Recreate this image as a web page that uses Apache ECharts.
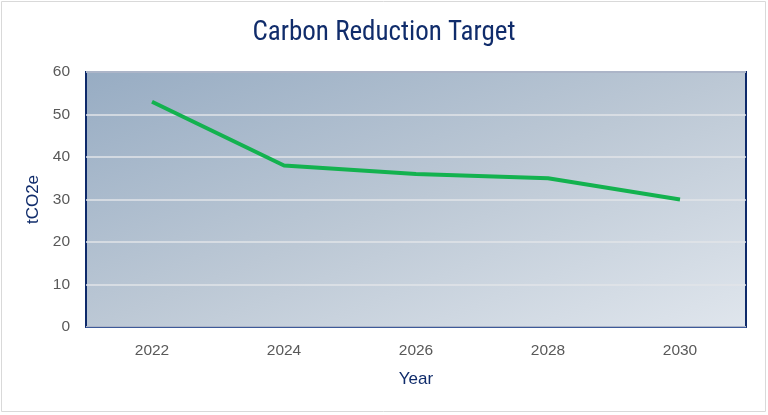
<!DOCTYPE html>
<html><head><meta charset="utf-8">
<script src="https://cdn.jsdelivr.net/npm/echarts@6/dist/echarts.min.js"></script>
<style>html,body{margin:0;padding:0;background:#fff}#c{width:768px;height:415px}</style>
</head><body><div id="c"></div>
<script>
const years = ['2022', '2024', '2026', '2028', '2030'];
const emissions = [53, 38, 36, 35, 30];
const yTicks = { min: 0, max: 60, interval: 10 };

const chart = echarts.init(document.getElementById('c'));
chart.setOption({
  animation: false,
  title: {
    text: 'Carbon Reduction Target', left: 'center', top: 15,
    textStyle: { fontFamily: 'Liberation Sans Narrow, Roboto Condensed, Liberation Sans', fontWeight: 'normal', fontSize: 27, color: '#102c6b' }
  },
  graphic: [{
    type: 'rect', shape: { x: 1.5, y: 1.5, width: 764, height: 410 },
    style: { fill: 'none', stroke: '#d9d9d9', lineWidth: 1 }, z: -10
  }],
  grid: {
    left: 86, right: 22, top: 72, bottom: 88, show: true,
    backgroundColor: new echarts.graphic.LinearGradient(0, 0, 0.26, 1.74, [
      { offset: 0, color: '#97acc3' }, { offset: 0.5, color: '#bcc8d5' }, { offset: 1, color: '#e0e6ed' }
    ]),
    borderColor: '#0e2a6a', borderWidth: 2
  },
  xAxis: {
    type: 'category', data: years, name: 'Year', nameLocation: 'middle', nameGap: 44,
    nameTextStyle: { color: '#102c6b', fontSize: 17, fontFamily: 'Liberation Sans' },
    axisLine: { show: true, lineStyle: { color: '#3d5a99', width: 1 } },
    axisTick: { show: false },
    axisLabel: { color: '#595959', fontSize: 15.5, margin: 16, fontFamily: 'Liberation Sans' }
  },
  yAxis: {
    type: 'value', min: yTicks.min, max: yTicks.max, interval: yTicks.interval,
    name: 'tCO2e', nameLocation: 'middle', nameGap: 41,
    nameTextStyle: { color: '#102c6b', fontSize: 17, fontFamily: 'Liberation Sans' },
    axisLine: { show: false }, axisTick: { show: false },
    axisLabel: { color: '#595959', fontSize: 15.5, margin: 16, fontFamily: 'Liberation Sans' },
    splitLine: { lineStyle: { color: '#e2e4e8', width: 1.5 } }
  },
  series: [{
    type: 'line', data: emissions, symbol: 'none',
    lineStyle: { color: '#13b24f', width: 4 }
  }]
});
</script></body></html>
